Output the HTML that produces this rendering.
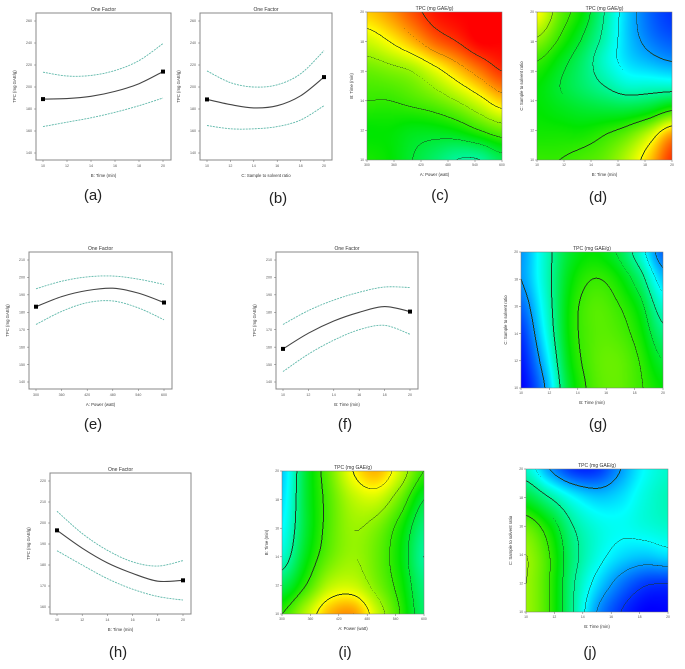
<!DOCTYPE html>
<html><head><meta charset="utf-8">
<style>
html,body{margin:0;padding:0;background:#fff;}
#wrap{position:relative;width:685px;height:669px;overflow:hidden;font-family:"Liberation Sans",sans-serif;}
canvas{position:absolute;}
svg{position:absolute;left:0;top:0;}
</style></head>
<body>
<div id="wrap">
<svg id="svg" width="685" height="669"></svg>
</div>
<script>
// ---------- Data: one-factor line plots ----------
const xTime = [10,12,14,16,18,20];
const xPower = [300,360,420,480,540,600];
const aMean = [189,189.5,191.5,196,203,214];
const aUpper = [213.5,210,210.5,215,224,239.5];
const aLower = [164,168,172,177,183,190];
const bMean = [188.7,184,181,183,192,209];
const bUpper = [214.6,204,200,202,212,233];
const bLower = [165,162,162,164,170,183];
const eMean = [183.2,189,192.5,193.8,191,185.6];
const eUpper = [193.5,197.8,200.3,200.8,199,196];
const eLower = [173,180.5,185.5,186.5,182.5,175.7];
const fMean = [159,168,175,180,183.3,180.4];
const fUpper = [173,181,187,191.5,194.5,194.2];
const fLower = [146,156,164,170,172.5,167.4];
const hMean = [196.5,188,181,176,172.3,172.7];
const hUpper = [205.6,195,187,181.5,179.5,182.1];
const hLower = [186.8,180,173.5,168.5,165,163.3];
const yTicksAB = [140,160,180,200,220,240,260];
const yTicksEF = [140,150,160,170,180,190,200,210];
const yTicksH = [160,170,180,190,200,210,220];
const xTicksTime = [10,12,14,16,18,20];
const xTicksPower = [300,360,420,480,540,600];
// ---------- Data: response surface grids (normalized 0..1, rows top->bottom) ----------
const gridC = [
 [0.8,0.85,0.92,0.98,1,1,1],
 [0.7,0.75,0.82,0.9,0.95,1,1],
 [0.6,0.62,0.65,0.72,0.8,0.88,0.95],
 [0.55,0.55,0.57,0.6,0.65,0.72,0.8],
 [0.5,0.5,0.48,0.48,0.5,0.55,0.6],
 [0.52,0.5,0.45,0.4,0.35,0.35,0.42]];
const gridD = [
 [0.75,0.6,0.5,0.35,0.2,0.1,0.05],
 [0.65,0.55,0.45,0.33,0.2,0.12,0.08],
 [0.55,0.48,0.4,0.3,0.22,0.18,0.15],
 [0.5,0.45,0.4,0.35,0.3,0.3,0.3],
 [0.5,0.48,0.46,0.45,0.45,0.48,0.55],
 [0.52,0.52,0.52,0.55,0.6,0.7,0.85],
 [0.55,0.55,0.57,0.6,0.68,0.8,0.95]];
const gridG = [
 [0.15,0.3,0.45,0.5,0.45,0.3,0.1],
 [0.15,0.3,0.48,0.55,0.52,0.4,0.2],
 [0.1,0.28,0.5,0.58,0.56,0.48,0.3],
 [0.05,0.25,0.5,0.58,0.58,0.52,0.38],
 [0.02,0.2,0.48,0.58,0.6,0.55,0.45],
 [0.0,0.15,0.45,0.57,0.6,0.56,0.5]];
const gridI = [
 [0.2,0.45,0.6,0.75,0.82,0.7,0.55],
 [0.22,0.45,0.58,0.68,0.7,0.6,0.45],
 [0.25,0.45,0.58,0.65,0.62,0.52,0.38],
 [0.3,0.48,0.6,0.65,0.6,0.5,0.35],
 [0.42,0.55,0.68,0.7,0.62,0.52,0.38],
 [0.55,0.68,0.82,0.85,0.7,0.55,0.4]];
const gridJ = [
 [0.3,0.15,0.05,0.05,0.15,0.25,0.3],
 [0.45,0.35,0.25,0.2,0.22,0.28,0.32],
 [0.6,0.5,0.35,0.28,0.26,0.28,0.3],
 [0.65,0.55,0.38,0.28,0.22,0.2,0.22],
 [0.65,0.55,0.36,0.22,0.12,0.06,0.05],
 [0.65,0.55,0.35,0.15,0.05,0.0,0.0]];
const contourStep = 0.1;

const NS='http://www.w3.org/2000/svg';
const svg=document.getElementById('svg');
function mk(tag,attrs,parent){const e=document.createElementNS(NS,tag);for(const k in attrs)e.setAttribute(k,attrs[k]);(parent||svg).appendChild(e);return e;}
function txt(x,y,s,size,attrs,parent){const t=mk('text',Object.assign({x:x,y:y,'font-size':size,'text-anchor':'middle',fill:'#333'},attrs||{}),parent);t.textContent=s;return t;}

function smoothPath(pts){
  let d='M'+pts[0][0]+','+pts[0][1];
  for(let i=0;i<pts.length-1;i++){
    const p0=pts[i-1]||pts[i],p1=pts[i],p2=pts[i+1],p3=pts[i+2]||p2;
    const c1=[p1[0]+(p2[0]-p0[0])/6,p1[1]+(p2[1]-p0[1])/6];
    const c2=[p2[0]-(p3[0]-p1[0])/6,p2[1]-(p3[1]-p1[1])/6];
    d+=' C'+c1[0]+','+c1[1]+' '+c2[0]+','+c2[1]+' '+p2[0]+','+p2[1];
  }
  return d;
}

function linePlot(id,box,xs,xTicks,yTicks,mean,up,lo,xTitle,label,labelPos){
  const [L,T,R,B]=box;
  const g=mk('g',{});
  
  
  const dl=L+7,dr=R-8,dt=T+8,db=B-7;
  const x0=xTicks[0],x1=xTicks[xTicks.length-1],y0=yTicks[0],y1=yTicks[yTicks.length-1];
  const sx=v=>dl+(v-x0)/(x1-x0)*(dr-dl);
  const sy=v=>db-(v-y0)/(y1-y0)*(db-dt);
  const frame=mk('rect',{x:L,y:T,width:R-L,height:B-T,fill:'#fff',stroke:'#888','stroke-width':1},g);
  
  
  const title=txt((L+R)/2,T-2,'One Factor',5,{},g);
  
  
  yTicks.forEach(v=>{mk('line',{x1:L-2,x2:L,y1:sy(v),y2:sy(v),stroke:'#666','stroke-width':0.5},g);
    const t=txt(L-4,sy(v)+1.2,String(v),3.6,{'text-anchor':'end',fill:'#555'},g);
    });
  xTicks.forEach(v=>{mk('line',{x1:sx(v),x2:sx(v),y1:B,y2:B+2,stroke:'#666','stroke-width':0.5},g);
    const t=txt(sx(v),B+7,String(v),3.6,{fill:'#555'},g);
    });
  const xt=txt((L+R)/2,B+17,xTitle,4.3,{},g);
  
  const yx=L-20,yy=(T+B)/2;
  const yt=txt(yx,yy,'TPC (mg GAE/g)',4.3,{transform:'rotate(-90 '+yx+' '+yy+')'},g);
  
  const pu=mk('path',{d:smoothPath(xs.map((x,i)=>[sx(x),sy(up[i])])),fill:'none',stroke:'#5fb8aa','stroke-width':0.9,'stroke-dasharray':'2,1'},g);
  
  const pl=mk('path',{d:smoothPath(xs.map((x,i)=>[sx(x),sy(lo[i])])),fill:'none',stroke:'#5fb8aa','stroke-width':0.9,'stroke-dasharray':'2,1'},g);
  
  const pm=mk('path',{d:smoothPath(xs.map((x,i)=>[sx(x),sy(mean[i])])),fill:'none',stroke:'#444','stroke-width':1.1},g);
  
  [0,xs.length-1].forEach(i=>{const m=mk('rect',{x:sx(xs[i])-2,y:sy(mean[i])-2,width:4,height:4,fill:'#000'},g);
    });
  const lb=txt(labelPos[0],labelPos[1],label,15,{fill:'#222'},g);
  
}

function cmap(v){
  v=Math.max(0,Math.min(1,v));
  const stops=[[0,0,255],[0,255,255],[0,230,0],[255,255,0],[255,0,0]];
  const f=v*4,i=Math.min(3,Math.floor(f)),t=f-i;
  const a=stops[i],b=stops[i+1];
  return [a[0]+(b[0]-a[0])*t,a[1]+(b[1]-a[1])*t,a[2]+(b[2]-a[2])*t];
}
function cr(p0,p1,p2,p3,t){return 0.5*((2*p1)+(-p0+p2)*t+(2*p0-5*p1+4*p2-p3)*t*t+(-p0+3*p1-3*p2+p3)*t*t*t);}
function sampleGrid(grid,u,v){
  const rows=grid.length,cols=grid[0].length;
  const fy=v*(rows-1),fx=u*(cols-1);
  const r=Math.min(rows-2,Math.floor(fy)),c=Math.min(cols-2,Math.floor(fx));
  const ty=fy-r,tx=fx-c;
  const gr=(i)=>grid[Math.max(0,Math.min(rows-1,i))];
  const col=[];
  for(let k=-1;k<=2;k++){
    const row=gr(r+k);const gc=(j)=>row[Math.max(0,Math.min(cols-1,j))];
    col.push(cr(gc(c-1),gc(c),gc(c+1),gc(c+2),tx));
  }
  return cr(col[0],col[1],col[2],col[3],ty);
}

function heatmap(id,box,grid,xTicks,yTicks,xTitle,yTitle,label,labelPos){
  const [L,T,R,B]=box;
  const W=R-L,H=B-T,S=2;
  const cv=document.createElement('canvas');
  cv.width=W*S;cv.height=H*S;cv.style.left=L+'px';cv.style.top=T+'px';cv.style.width=W+'px';cv.style.height=H+'px';
  
  
  document.getElementById('wrap').insertBefore(cv,svg);
  const ctx=cv.getContext('2d');
  const img=ctx.createImageData(cv.width,cv.height);
  const vals=new Float32Array(cv.width*cv.height);
  for(let y=0;y<cv.height;y++)for(let x=0;x<cv.width;x++)vals[y*cv.width+x]=sampleGrid(grid,x/(cv.width-1),y/(cv.height-1));
  for(let y=0;y<cv.height;y++)for(let x=0;x<cv.width;x++){
    const k=y*cv.width+x,v=vals[k];
    let col=cmap(v);
    const band=Math.floor(v/contourStep+0.5);
    const br=x+1<cv.width?Math.floor(vals[k+1]/contourStep+0.5):band;
    const bd=y+1<cv.height?Math.floor(vals[k+cv.width]/contourStep+0.5):band;
    const bl=x>0?Math.floor(vals[k-1]/contourStep+0.5):band;
    const bu=y>0?Math.floor(vals[k-cv.width]/contourStep+0.5):band;
    if((br!==band||bd!==band||bl!==band||bu!==band)&&(Math.max(band,br,bd)%2===0))col=[30,55,30];
    img.data[k*4]=col[0];img.data[k*4+1]=col[1];img.data[k*4+2]=col[2];img.data[k*4+3]=255;
  }
  ctx.putImageData(img,0,0);
  const g=mk('g',{});
  
  
  const fr=mk('rect',{x:L,y:T,width:W,height:H,fill:'none',stroke:'#777','stroke-width':0.5},g);
  
  const ti=txt((L+R)/2,T-2,'TPC (mg GAE/g)',5,{},g);
  
  const x0=xTicks[0],x1=xTicks[xTicks.length-1],y0=yTicks[0],y1=yTicks[yTicks.length-1];
  xTicks.forEach(v=>{const px=L+(v-x0)/(x1-x0)*W;mk('line',{x1:px,x2:px,y1:B,y2:B+2,stroke:'#666','stroke-width':0.5},g);
    const t=txt(px,B+6,String(v),3.4,{fill:'#555'},g);});
  yTicks.forEach(v=>{const py=B-(v-y0)/(y1-y0)*H;mk('line',{x1:L-2,x2:L,y1:py,y2:py,stroke:'#666','stroke-width':0.5},g);
    const t=txt(L-3,py+1.2,String(v),3.4,{'text-anchor':'end',fill:'#555'},g);});
  const xt=txt((L+R)/2,B+16,xTitle,4.3,{},g);
  
  const yx=L-14,yy=(T+B)/2;
  const yt=txt(yx,yy,yTitle,4.3,{transform:'rotate(-90 '+yx+' '+yy+')'},g);
  
  const lb=txt(labelPos[0],labelPos[1],label,15,{fill:'#222'},g);
  
}

linePlot('panel-a',[36,13,171,160],xTime,xTicksTime,yTicksAB,aMean,aUpper,aLower,'B: Time (min)','(a)',[93,200]);
linePlot('panel-b',[200,13,332,160],xTime,xTicksTime,yTicksAB,bMean,bUpper,bLower,'C: Sample to solvent ratio','(b)',[278,203]);
linePlot('panel-e',[29,252,172,389],xPower,xTicksPower,yTicksEF,eMean,eUpper,eLower,'A: Power (watt)','(e)',[93,429]);
linePlot('panel-f',[276,252,418,389],xTime,xTicksTime,yTicksEF,fMean,fUpper,fLower,'B: Time (min)','(f)',[345,429]);
linePlot('panel-h',[50,473,191,614],xTime,xTicksTime,yTicksH,hMean,hUpper,hLower,'B: Time (min)','(h)',[118,657]);
heatmap('panel-c',[367,12,502,160],gridC,xTicksPower,xTicksTime,'A: Power (watt)','B: Time (min)','(c)',[440,200]);
heatmap('panel-d',[537,12,672,160],gridD,xTicksTime,xTicksTime,'B: Time (min)','C: Sample to solvent ratio','(d)',[598,202]);
heatmap('panel-g',[521,252,663,388],gridG,xTicksTime,xTicksTime,'B: Time (min)','C: Sample to solvent ratio','(g)',[598,429]);
heatmap('panel-i',[282,471,424,614],gridI,xTicksPower,xTicksTime,'A: Power (watt)','B: Time (min)','(i)',[345,657]);
heatmap('panel-j',[526,469,668,612],gridJ,xTicksTime,xTicksTime,'B: Time (min)','C: Sample to solvent ratio','(j)',[590,657]);
</script>
</body></html>
